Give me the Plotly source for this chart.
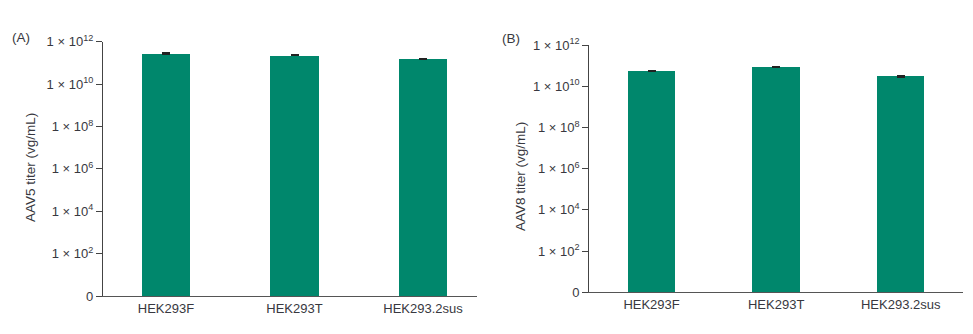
import plotly.graph_objects as go

W, H = 973, 334

categories = ["HEK293F", "HEK293T", "HEK293.2sus"]
aav5_titer = [2.8e11, 2.3e11, 1.5e11]
aav5_err = [1.0e10, 1.0e10, 8.0e9]
aav8_titer = [5.5e10, 8.5e10, 3.0e10]
aav8_err = [2.0e9, 4.0e9, 1.5e9]

tick_vals = [1, 1e2, 1e4, 1e6, 1e8, 1e10, 1e12]
tick_text = ["0", "1 × 10<sup>2</sup>", "1 × 10<sup>4</sup>", "1 × 10<sup>6</sup>",
             "1 × 10<sup>8</sup>", "1 × 10<sup>10</sup>", "1 × 10<sup>12</sup>"]

BAR = "#00876c"
TXT = "#383840"
FONT = "Liberation Sans, Arial, sans-serif"

fig = go.Figure()
fig.add_trace(go.Bar(x=[0, 1, 2], y=aav5_titer, width=0.38, marker_color=BAR,
                     marker_line_width=0,
                     error_y=dict(type="data", array=aav5_err, color="#222222",
                                  thickness=1.5, width=4),
                     xaxis="x", yaxis="y", showlegend=False))
fig.add_trace(go.Bar(x=[0, 1, 2], y=aav8_titer, width=0.38, marker_color=BAR,
                     marker_line_width=0,
                     error_y=dict(type="data", array=aav8_err, color="#222222",
                                  thickness=1.5, width=4),
                     xaxis="x2", yaxis="y2", showlegend=False))

def px_x(p):
    return p / W

def px_y(p):
    return 1 - p / H

yaxis_common = dict(type="log", range=[0, 12], tickvals=tick_vals, ticktext=tick_text,
                    showgrid=False, zeroline=False, showline=True, linecolor="#444444",
                    linewidth=1.3, ticks="outside", ticklen=6, tickcolor="#444444",
                    automargin=False,
                    tickfont=dict(family=FONT, size=13, color=TXT))
xaxis_common = dict(tickvals=[0, 1, 2], ticktext=categories, showgrid=False,
                    zeroline=False, showline=True, linecolor="#555555", linewidth=1.3,
                    ticks="", automargin=False,
                    tickfont=dict(family=FONT, size=13, color=TXT))

fig.update_layout(
    width=W, height=H,
    margin=dict(l=0, r=0, t=0, b=0),
    paper_bgcolor="white", plot_bgcolor="white",
    bargap=0,
    xaxis=dict(domain=[px_x(103), px_x(477)], range=[-0.49, 2.42], anchor="y", **xaxis_common),
    yaxis=dict(domain=[px_y(296), px_y(41.7)], anchor="x", **yaxis_common),
    xaxis2=dict(domain=[px_x(589.3), px_x(963)], range=[-0.5, 2.5], anchor="y2", **xaxis_common),
    yaxis2=dict(domain=[px_y(292.3), px_y(45)], anchor="x2", **yaxis_common),
    annotations=[
        dict(text="(A)", x=px_x(10), y=px_y(37), xref="paper", yref="paper",
             xanchor="left", yanchor="middle", showarrow=False,
             font=dict(family=FONT, size=13.5, color=TXT)),
        dict(text="(B)", x=px_x(500), y=px_y(38), xref="paper", yref="paper",
             xanchor="left", yanchor="middle", showarrow=False,
             font=dict(family=FONT, size=13.5, color=TXT)),
        dict(text="AAV5 titer (vg/mL)", x=px_x(30), y=px_y(168), xref="paper", yref="paper",
             xanchor="center", yanchor="middle", textangle=-90, showarrow=False,
             font=dict(family=FONT, size=13.5, color=TXT)),
        dict(text="AAV8 titer (vg/mL)", x=px_x(520), y=px_y(177), xref="paper", yref="paper",
             xanchor="center", yanchor="middle", textangle=-90, showarrow=False,
             font=dict(family=FONT, size=13.5, color=TXT)),
    ],
)

fig.write_html("out.html")
